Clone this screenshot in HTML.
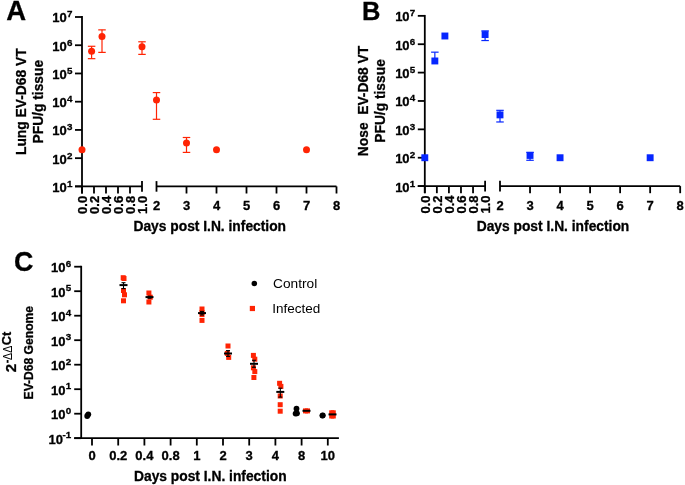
<!DOCTYPE html>
<html><head><meta charset="utf-8"><style>
html,body{margin:0;padding:0;background:#fff;}
svg{display:block;font-family:'Liberation Sans', Arial, sans-serif;}
text[font-weight=bold]{stroke:#000;stroke-width:0.3px;}
</style></head><body>
<svg width="685" height="485" viewBox="0 0 685 485">
<rect width="685" height="485" fill="#fff"/>
<text x="6.30" y="19.70" font-size="27.5" font-weight="bold" text-anchor="start" fill="#000" >A</text>
<text x="362.00" y="19.50" font-size="25.5" font-weight="bold" text-anchor="start" fill="#000" >B</text>
<text x="13.90" y="270.50" font-size="26.8" font-weight="bold" text-anchor="start" fill="#000" >C</text>
<line x1="82.00" y1="16.10" x2="82.00" y2="193.50" stroke="#000" stroke-width="1.8" stroke-linecap="butt"/>
<line x1="75.00" y1="186.40" x2="82.00" y2="186.40" stroke="#000" stroke-width="1.8" stroke-linecap="butt"/>
<text x="66.80" y="191.80" font-size="13" font-weight="bold" text-anchor="end" fill="#000" >10</text>
<text x="72.40" y="186.80" font-size="9.8" font-weight="bold" text-anchor="end" fill="#000" >1</text>
<line x1="75.00" y1="158.17" x2="82.00" y2="158.17" stroke="#000" stroke-width="1.8" stroke-linecap="butt"/>
<text x="66.80" y="163.57" font-size="13" font-weight="bold" text-anchor="end" fill="#000" >10</text>
<text x="72.40" y="158.57" font-size="9.8" font-weight="bold" text-anchor="end" fill="#000" >2</text>
<line x1="75.00" y1="129.93" x2="82.00" y2="129.93" stroke="#000" stroke-width="1.8" stroke-linecap="butt"/>
<text x="66.80" y="135.33" font-size="13" font-weight="bold" text-anchor="end" fill="#000" >10</text>
<text x="72.40" y="130.33" font-size="9.8" font-weight="bold" text-anchor="end" fill="#000" >3</text>
<line x1="75.00" y1="101.70" x2="82.00" y2="101.70" stroke="#000" stroke-width="1.8" stroke-linecap="butt"/>
<text x="66.80" y="107.10" font-size="13" font-weight="bold" text-anchor="end" fill="#000" >10</text>
<text x="72.40" y="102.10" font-size="9.8" font-weight="bold" text-anchor="end" fill="#000" >4</text>
<line x1="75.00" y1="73.47" x2="82.00" y2="73.47" stroke="#000" stroke-width="1.8" stroke-linecap="butt"/>
<text x="66.80" y="78.87" font-size="13" font-weight="bold" text-anchor="end" fill="#000" >10</text>
<text x="72.40" y="73.87" font-size="9.8" font-weight="bold" text-anchor="end" fill="#000" >5</text>
<line x1="75.00" y1="45.23" x2="82.00" y2="45.23" stroke="#000" stroke-width="1.8" stroke-linecap="butt"/>
<text x="66.80" y="50.63" font-size="13" font-weight="bold" text-anchor="end" fill="#000" >10</text>
<text x="72.40" y="45.63" font-size="9.8" font-weight="bold" text-anchor="end" fill="#000" >6</text>
<line x1="75.00" y1="17.00" x2="82.00" y2="17.00" stroke="#000" stroke-width="1.8" stroke-linecap="butt"/>
<text x="66.80" y="22.40" font-size="13" font-weight="bold" text-anchor="end" fill="#000" >10</text>
<text x="72.40" y="17.40" font-size="9.8" font-weight="bold" text-anchor="end" fill="#000" >7</text>
<line x1="75.00" y1="186.40" x2="142.00" y2="186.40" stroke="#000" stroke-width="1.8" stroke-linecap="butt"/>
<line x1="82.00" y1="186.40" x2="82.00" y2="193.50" stroke="#000" stroke-width="1.8" stroke-linecap="butt"/>
<line x1="94.00" y1="186.40" x2="94.00" y2="193.50" stroke="#000" stroke-width="1.8" stroke-linecap="butt"/>
<line x1="106.00" y1="186.40" x2="106.00" y2="193.50" stroke="#000" stroke-width="1.8" stroke-linecap="butt"/>
<line x1="118.00" y1="186.40" x2="118.00" y2="193.50" stroke="#000" stroke-width="1.8" stroke-linecap="butt"/>
<line x1="130.00" y1="186.40" x2="130.00" y2="193.50" stroke="#000" stroke-width="1.8" stroke-linecap="butt"/>
<line x1="142.00" y1="181.10" x2="142.00" y2="191.70" stroke="#000" stroke-width="1.8" stroke-linecap="butt"/>
<text transform="translate(86.70,195.80) rotate(-90)" font-size="13" font-weight="bold" text-anchor="end">0.0</text>
<text transform="translate(98.70,195.80) rotate(-90)" font-size="13" font-weight="bold" text-anchor="end">0.2</text>
<text transform="translate(110.70,195.80) rotate(-90)" font-size="13" font-weight="bold" text-anchor="end">0.4</text>
<text transform="translate(122.70,195.80) rotate(-90)" font-size="13" font-weight="bold" text-anchor="end">0.6</text>
<text transform="translate(134.70,195.80) rotate(-90)" font-size="13" font-weight="bold" text-anchor="end">0.8</text>
<text transform="translate(146.70,195.80) rotate(-90)" font-size="13" font-weight="bold" text-anchor="end">1.0</text>
<line x1="156.50" y1="186.40" x2="336.50" y2="186.40" stroke="#000" stroke-width="1.8" stroke-linecap="butt"/>
<line x1="156.50" y1="181.10" x2="156.50" y2="191.70" stroke="#000" stroke-width="1.8" stroke-linecap="butt"/>
<line x1="186.50" y1="186.40" x2="186.50" y2="193.50" stroke="#000" stroke-width="1.8" stroke-linecap="butt"/>
<line x1="216.50" y1="186.40" x2="216.50" y2="193.50" stroke="#000" stroke-width="1.8" stroke-linecap="butt"/>
<line x1="246.50" y1="186.40" x2="246.50" y2="193.50" stroke="#000" stroke-width="1.8" stroke-linecap="butt"/>
<line x1="276.50" y1="186.40" x2="276.50" y2="193.50" stroke="#000" stroke-width="1.8" stroke-linecap="butt"/>
<line x1="306.50" y1="186.40" x2="306.50" y2="193.50" stroke="#000" stroke-width="1.8" stroke-linecap="butt"/>
<line x1="336.50" y1="186.40" x2="336.50" y2="193.50" stroke="#000" stroke-width="1.8" stroke-linecap="butt"/>
<text x="156.50" y="210.20" font-size="13" font-weight="bold" text-anchor="middle" fill="#000" >2</text>
<text x="186.50" y="210.20" font-size="13" font-weight="bold" text-anchor="middle" fill="#000" >3</text>
<text x="216.50" y="210.20" font-size="13" font-weight="bold" text-anchor="middle" fill="#000" >4</text>
<text x="246.50" y="210.20" font-size="13" font-weight="bold" text-anchor="middle" fill="#000" >5</text>
<text x="276.50" y="210.20" font-size="13" font-weight="bold" text-anchor="middle" fill="#000" >6</text>
<text x="306.50" y="210.20" font-size="13" font-weight="bold" text-anchor="middle" fill="#000" >7</text>
<text x="336.50" y="210.20" font-size="13" font-weight="bold" text-anchor="middle" fill="#000" >8</text>
<text x="209.75" y="231.20" font-size="13.8" font-weight="bold" text-anchor="middle" fill="#000" >Days post I.N. infection</text>
<text transform="translate(25.90,101.70) rotate(-90)" font-size="13.8" font-weight="bold" text-anchor="middle" xml:space="preserve">Lung EV-D68 VT</text>
<text transform="translate(42.90,101.70) rotate(-90)" font-size="13.8" font-weight="bold" text-anchor="middle" xml:space="preserve">PFU/g tissue</text>
<circle cx="82.00" cy="149.67" r="3.5" fill="#ff2404"/>
<line x1="91.60" y1="46.28" x2="91.60" y2="58.67" stroke="#ff2404" stroke-width="1.2" stroke-linecap="butt"/>
<line x1="87.85" y1="46.28" x2="95.35" y2="46.28" stroke="#ff2404" stroke-width="1.2" stroke-linecap="butt"/>
<line x1="87.85" y1="58.67" x2="95.35" y2="58.67" stroke="#ff2404" stroke-width="1.2" stroke-linecap="butt"/>
<circle cx="91.60" cy="51.16" r="3.5" fill="#ff2404"/>
<line x1="102.00" y1="29.87" x2="102.00" y2="52.38" stroke="#ff2404" stroke-width="1.2" stroke-linecap="butt"/>
<line x1="98.25" y1="29.87" x2="105.75" y2="29.87" stroke="#ff2404" stroke-width="1.2" stroke-linecap="butt"/>
<line x1="98.25" y1="52.38" x2="105.75" y2="52.38" stroke="#ff2404" stroke-width="1.2" stroke-linecap="butt"/>
<circle cx="102.00" cy="36.48" r="3.5" fill="#ff2404"/>
<line x1="142.00" y1="41.79" x2="142.00" y2="54.38" stroke="#ff2404" stroke-width="1.2" stroke-linecap="butt"/>
<line x1="138.25" y1="41.79" x2="145.75" y2="41.79" stroke="#ff2404" stroke-width="1.2" stroke-linecap="butt"/>
<line x1="138.25" y1="54.38" x2="145.75" y2="54.38" stroke="#ff2404" stroke-width="1.2" stroke-linecap="butt"/>
<circle cx="142.00" cy="46.64" r="3.5" fill="#ff2404"/>
<line x1="156.50" y1="92.58" x2="156.50" y2="119.29" stroke="#ff2404" stroke-width="1.2" stroke-linecap="butt"/>
<line x1="152.75" y1="92.58" x2="160.25" y2="92.58" stroke="#ff2404" stroke-width="1.2" stroke-linecap="butt"/>
<line x1="152.75" y1="119.29" x2="160.25" y2="119.29" stroke="#ff2404" stroke-width="1.2" stroke-linecap="butt"/>
<circle cx="156.50" cy="99.89" r="3.5" fill="#ff2404"/>
<line x1="186.50" y1="137.50" x2="186.50" y2="152.41" stroke="#ff2404" stroke-width="1.2" stroke-linecap="butt"/>
<line x1="182.75" y1="137.50" x2="190.25" y2="137.50" stroke="#ff2404" stroke-width="1.2" stroke-linecap="butt"/>
<line x1="182.75" y1="152.41" x2="190.25" y2="152.41" stroke="#ff2404" stroke-width="1.2" stroke-linecap="butt"/>
<circle cx="186.50" cy="143.09" r="3.5" fill="#ff2404"/>
<circle cx="216.50" cy="149.67" r="3.5" fill="#ff2404"/>
<circle cx="306.50" cy="149.67" r="3.5" fill="#ff2404"/>
<line x1="424.80" y1="14.95" x2="424.80" y2="193.20" stroke="#000" stroke-width="1.8" stroke-linecap="butt"/>
<line x1="417.80" y1="186.10" x2="424.80" y2="186.10" stroke="#000" stroke-width="1.8" stroke-linecap="butt"/>
<text x="409.60" y="191.50" font-size="13" font-weight="bold" text-anchor="end" fill="#000" >10</text>
<text x="415.20" y="186.50" font-size="9.8" font-weight="bold" text-anchor="end" fill="#000" >1</text>
<line x1="417.80" y1="157.72" x2="424.80" y2="157.72" stroke="#000" stroke-width="1.8" stroke-linecap="butt"/>
<text x="409.60" y="163.12" font-size="13" font-weight="bold" text-anchor="end" fill="#000" >10</text>
<text x="415.20" y="158.12" font-size="9.8" font-weight="bold" text-anchor="end" fill="#000" >2</text>
<line x1="417.80" y1="129.35" x2="424.80" y2="129.35" stroke="#000" stroke-width="1.8" stroke-linecap="butt"/>
<text x="409.60" y="134.75" font-size="13" font-weight="bold" text-anchor="end" fill="#000" >10</text>
<text x="415.20" y="129.75" font-size="9.8" font-weight="bold" text-anchor="end" fill="#000" >3</text>
<line x1="417.80" y1="100.97" x2="424.80" y2="100.97" stroke="#000" stroke-width="1.8" stroke-linecap="butt"/>
<text x="409.60" y="106.38" font-size="13" font-weight="bold" text-anchor="end" fill="#000" >10</text>
<text x="415.20" y="101.38" font-size="9.8" font-weight="bold" text-anchor="end" fill="#000" >4</text>
<line x1="417.80" y1="72.60" x2="424.80" y2="72.60" stroke="#000" stroke-width="1.8" stroke-linecap="butt"/>
<text x="409.60" y="78.00" font-size="13" font-weight="bold" text-anchor="end" fill="#000" >10</text>
<text x="415.20" y="73.00" font-size="9.8" font-weight="bold" text-anchor="end" fill="#000" >5</text>
<line x1="417.80" y1="44.22" x2="424.80" y2="44.22" stroke="#000" stroke-width="1.8" stroke-linecap="butt"/>
<text x="409.60" y="49.62" font-size="13" font-weight="bold" text-anchor="end" fill="#000" >10</text>
<text x="415.20" y="44.62" font-size="9.8" font-weight="bold" text-anchor="end" fill="#000" >6</text>
<line x1="417.80" y1="15.85" x2="424.80" y2="15.85" stroke="#000" stroke-width="1.8" stroke-linecap="butt"/>
<text x="409.60" y="21.25" font-size="13" font-weight="bold" text-anchor="end" fill="#000" >10</text>
<text x="415.20" y="16.25" font-size="9.8" font-weight="bold" text-anchor="end" fill="#000" >7</text>
<line x1="417.80" y1="186.10" x2="485.10" y2="186.10" stroke="#000" stroke-width="1.8" stroke-linecap="butt"/>
<line x1="424.80" y1="186.10" x2="424.80" y2="193.20" stroke="#000" stroke-width="1.8" stroke-linecap="butt"/>
<line x1="436.86" y1="186.10" x2="436.86" y2="193.20" stroke="#000" stroke-width="1.8" stroke-linecap="butt"/>
<line x1="448.92" y1="186.10" x2="448.92" y2="193.20" stroke="#000" stroke-width="1.8" stroke-linecap="butt"/>
<line x1="460.98" y1="186.10" x2="460.98" y2="193.20" stroke="#000" stroke-width="1.8" stroke-linecap="butt"/>
<line x1="473.04" y1="186.10" x2="473.04" y2="193.20" stroke="#000" stroke-width="1.8" stroke-linecap="butt"/>
<line x1="485.10" y1="180.80" x2="485.10" y2="191.40" stroke="#000" stroke-width="1.8" stroke-linecap="butt"/>
<text transform="translate(429.50,195.50) rotate(-90)" font-size="13" font-weight="bold" text-anchor="end">0.0</text>
<text transform="translate(441.56,195.50) rotate(-90)" font-size="13" font-weight="bold" text-anchor="end">0.2</text>
<text transform="translate(453.62,195.50) rotate(-90)" font-size="13" font-weight="bold" text-anchor="end">0.4</text>
<text transform="translate(465.68,195.50) rotate(-90)" font-size="13" font-weight="bold" text-anchor="end">0.6</text>
<text transform="translate(477.74,195.50) rotate(-90)" font-size="13" font-weight="bold" text-anchor="end">0.8</text>
<text transform="translate(489.80,195.50) rotate(-90)" font-size="13" font-weight="bold" text-anchor="end">1.0</text>
<line x1="500.00" y1="186.10" x2="680.18" y2="186.10" stroke="#000" stroke-width="1.8" stroke-linecap="butt"/>
<line x1="500.00" y1="180.80" x2="500.00" y2="191.40" stroke="#000" stroke-width="1.8" stroke-linecap="butt"/>
<line x1="530.03" y1="186.10" x2="530.03" y2="193.20" stroke="#000" stroke-width="1.8" stroke-linecap="butt"/>
<line x1="560.06" y1="186.10" x2="560.06" y2="193.20" stroke="#000" stroke-width="1.8" stroke-linecap="butt"/>
<line x1="590.09" y1="186.10" x2="590.09" y2="193.20" stroke="#000" stroke-width="1.8" stroke-linecap="butt"/>
<line x1="620.12" y1="186.10" x2="620.12" y2="193.20" stroke="#000" stroke-width="1.8" stroke-linecap="butt"/>
<line x1="650.15" y1="186.10" x2="650.15" y2="193.20" stroke="#000" stroke-width="1.8" stroke-linecap="butt"/>
<line x1="680.18" y1="186.10" x2="680.18" y2="193.20" stroke="#000" stroke-width="1.8" stroke-linecap="butt"/>
<text x="500.00" y="210.00" font-size="13" font-weight="bold" text-anchor="middle" fill="#000" >2</text>
<text x="530.03" y="210.00" font-size="13" font-weight="bold" text-anchor="middle" fill="#000" >3</text>
<text x="560.06" y="210.00" font-size="13" font-weight="bold" text-anchor="middle" fill="#000" >4</text>
<text x="590.09" y="210.00" font-size="13" font-weight="bold" text-anchor="middle" fill="#000" >5</text>
<text x="620.12" y="210.00" font-size="13" font-weight="bold" text-anchor="middle" fill="#000" >6</text>
<text x="650.15" y="210.00" font-size="13" font-weight="bold" text-anchor="middle" fill="#000" >7</text>
<text x="680.18" y="210.00" font-size="13" font-weight="bold" text-anchor="middle" fill="#000" >8</text>
<text x="552.99" y="231.00" font-size="13.8" font-weight="bold" text-anchor="middle" fill="#000" >Days post I.N. infection</text>
<text transform="translate(368.40,100.97) rotate(-90)" font-size="13.8" font-weight="bold" text-anchor="middle" xml:space="preserve">Nose  EV-D68 VT</text>
<text transform="translate(385.40,100.97) rotate(-90)" font-size="13.8" font-weight="bold" text-anchor="middle" xml:space="preserve">PFU/g tissue</text>
<rect x="421.35" y="154.28" width="6.9" height="6.9" fill="#0626ff"/>
<line x1="434.85" y1="52.17" x2="434.85" y2="60.97" stroke="#0626ff" stroke-width="1.2" stroke-linecap="butt"/>
<line x1="431.10" y1="52.17" x2="438.60" y2="52.17" stroke="#0626ff" stroke-width="1.2" stroke-linecap="butt"/>
<rect x="431.40" y="57.52" width="6.9" height="6.9" fill="#0626ff"/>
<rect x="441.45" y="32.55" width="6.9" height="6.9" fill="#0626ff"/>
<line x1="485.10" y1="30.89" x2="485.10" y2="40.54" stroke="#0626ff" stroke-width="1.2" stroke-linecap="butt"/>
<line x1="481.35" y1="30.89" x2="488.85" y2="30.89" stroke="#0626ff" stroke-width="1.2" stroke-linecap="butt"/>
<line x1="481.35" y1="40.54" x2="488.85" y2="40.54" stroke="#0626ff" stroke-width="1.2" stroke-linecap="butt"/>
<rect x="481.65" y="31.13" width="6.9" height="6.9" fill="#0626ff"/>
<line x1="500.00" y1="110.34" x2="500.00" y2="121.97" stroke="#0626ff" stroke-width="1.2" stroke-linecap="butt"/>
<line x1="496.25" y1="110.34" x2="503.75" y2="110.34" stroke="#0626ff" stroke-width="1.2" stroke-linecap="butt"/>
<line x1="496.25" y1="121.97" x2="503.75" y2="121.97" stroke="#0626ff" stroke-width="1.2" stroke-linecap="butt"/>
<rect x="496.55" y="111.43" width="6.9" height="6.9" fill="#0626ff"/>
<line x1="530.03" y1="152.33" x2="530.03" y2="160.28" stroke="#0626ff" stroke-width="1.2" stroke-linecap="butt"/>
<line x1="526.28" y1="152.33" x2="533.78" y2="152.33" stroke="#0626ff" stroke-width="1.2" stroke-linecap="butt"/>
<line x1="526.28" y1="160.28" x2="533.78" y2="160.28" stroke="#0626ff" stroke-width="1.2" stroke-linecap="butt"/>
<rect x="526.58" y="152.00" width="6.9" height="6.9" fill="#0626ff"/>
<rect x="556.61" y="154.28" width="6.9" height="6.9" fill="#0626ff"/>
<rect x="646.70" y="154.28" width="6.9" height="6.9" fill="#0626ff"/>
<line x1="81.20" y1="265.80" x2="81.20" y2="438.20" stroke="#000" stroke-width="1.8" stroke-linecap="butt"/>
<line x1="74.20" y1="438.20" x2="81.20" y2="438.20" stroke="#000" stroke-width="1.8" stroke-linecap="butt"/>
<text x="63.00" y="443.60" font-size="13" font-weight="bold" text-anchor="end" fill="#000" >10</text>
<text x="71.20" y="438.40" font-size="9.8" font-weight="bold" text-anchor="end" fill="#000" >-1</text>
<line x1="74.20" y1="413.70" x2="81.20" y2="413.70" stroke="#000" stroke-width="1.8" stroke-linecap="butt"/>
<text x="65.40" y="419.10" font-size="13" font-weight="bold" text-anchor="end" fill="#000" >10</text>
<text x="71.20" y="413.90" font-size="9.8" font-weight="bold" text-anchor="end" fill="#000" >0</text>
<line x1="74.20" y1="389.20" x2="81.20" y2="389.20" stroke="#000" stroke-width="1.8" stroke-linecap="butt"/>
<text x="65.40" y="394.60" font-size="13" font-weight="bold" text-anchor="end" fill="#000" >10</text>
<text x="71.20" y="389.40" font-size="9.8" font-weight="bold" text-anchor="end" fill="#000" >1</text>
<line x1="74.20" y1="364.70" x2="81.20" y2="364.70" stroke="#000" stroke-width="1.8" stroke-linecap="butt"/>
<text x="65.40" y="370.10" font-size="13" font-weight="bold" text-anchor="end" fill="#000" >10</text>
<text x="71.20" y="364.90" font-size="9.8" font-weight="bold" text-anchor="end" fill="#000" >2</text>
<line x1="74.20" y1="340.20" x2="81.20" y2="340.20" stroke="#000" stroke-width="1.8" stroke-linecap="butt"/>
<text x="65.40" y="345.60" font-size="13" font-weight="bold" text-anchor="end" fill="#000" >10</text>
<text x="71.20" y="340.40" font-size="9.8" font-weight="bold" text-anchor="end" fill="#000" >3</text>
<line x1="74.20" y1="315.70" x2="81.20" y2="315.70" stroke="#000" stroke-width="1.8" stroke-linecap="butt"/>
<text x="65.40" y="321.10" font-size="13" font-weight="bold" text-anchor="end" fill="#000" >10</text>
<text x="71.20" y="315.90" font-size="9.8" font-weight="bold" text-anchor="end" fill="#000" >4</text>
<line x1="74.20" y1="291.20" x2="81.20" y2="291.20" stroke="#000" stroke-width="1.8" stroke-linecap="butt"/>
<text x="65.40" y="296.60" font-size="13" font-weight="bold" text-anchor="end" fill="#000" >10</text>
<text x="71.20" y="291.40" font-size="9.8" font-weight="bold" text-anchor="end" fill="#000" >5</text>
<line x1="74.20" y1="266.70" x2="81.20" y2="266.70" stroke="#000" stroke-width="1.8" stroke-linecap="butt"/>
<text x="65.40" y="272.10" font-size="13" font-weight="bold" text-anchor="end" fill="#000" >10</text>
<text x="71.20" y="266.90" font-size="9.8" font-weight="bold" text-anchor="end" fill="#000" >6</text>
<line x1="74.20" y1="438.20" x2="338.90" y2="438.20" stroke="#000" stroke-width="1.8" stroke-linecap="butt"/>
<line x1="92.00" y1="438.20" x2="92.00" y2="445.50" stroke="#000" stroke-width="1.8" stroke-linecap="butt"/>
<text x="92.00" y="460.30" font-size="13" font-weight="bold" text-anchor="middle" fill="#000" >0</text>
<line x1="118.20" y1="438.20" x2="118.20" y2="445.50" stroke="#000" stroke-width="1.8" stroke-linecap="butt"/>
<text x="118.20" y="460.30" font-size="13" font-weight="bold" text-anchor="middle" fill="#000" >0.2</text>
<line x1="144.40" y1="438.20" x2="144.40" y2="445.50" stroke="#000" stroke-width="1.8" stroke-linecap="butt"/>
<text x="144.40" y="460.30" font-size="13" font-weight="bold" text-anchor="middle" fill="#000" >0.4</text>
<line x1="170.60" y1="438.20" x2="170.60" y2="445.50" stroke="#000" stroke-width="1.8" stroke-linecap="butt"/>
<text x="170.60" y="460.30" font-size="13" font-weight="bold" text-anchor="middle" fill="#000" >0.8</text>
<line x1="196.80" y1="438.20" x2="196.80" y2="445.50" stroke="#000" stroke-width="1.8" stroke-linecap="butt"/>
<text x="196.80" y="460.30" font-size="13" font-weight="bold" text-anchor="middle" fill="#000" >1</text>
<line x1="223.00" y1="438.20" x2="223.00" y2="445.50" stroke="#000" stroke-width="1.8" stroke-linecap="butt"/>
<text x="223.00" y="460.30" font-size="13" font-weight="bold" text-anchor="middle" fill="#000" >2</text>
<line x1="249.20" y1="438.20" x2="249.20" y2="445.50" stroke="#000" stroke-width="1.8" stroke-linecap="butt"/>
<text x="249.20" y="460.30" font-size="13" font-weight="bold" text-anchor="middle" fill="#000" >3</text>
<line x1="275.40" y1="438.20" x2="275.40" y2="445.50" stroke="#000" stroke-width="1.8" stroke-linecap="butt"/>
<text x="275.40" y="460.30" font-size="13" font-weight="bold" text-anchor="middle" fill="#000" >4</text>
<line x1="301.60" y1="438.20" x2="301.60" y2="445.50" stroke="#000" stroke-width="1.8" stroke-linecap="butt"/>
<text x="301.60" y="460.30" font-size="13" font-weight="bold" text-anchor="middle" fill="#000" >8</text>
<line x1="327.80" y1="438.20" x2="327.80" y2="445.50" stroke="#000" stroke-width="1.8" stroke-linecap="butt"/>
<text x="327.80" y="460.30" font-size="13" font-weight="bold" text-anchor="middle" fill="#000" >10</text>
<text x="210.30" y="481.00" font-size="13.8" font-weight="bold" text-anchor="middle" fill="#000" >Days post I.N. infection</text>
<text transform="translate(33.1,352.7) rotate(-90)" font-size="12.1" font-weight="bold" text-anchor="middle">EV-D68 Genome</text>
<text transform="translate(15.60,372.30) rotate(-90)" font-size="15" font-weight="bold" text-anchor="start">2</text>
<text transform="translate(10.30,361.30) rotate(-90)" font-size="11" font-weight="bold" text-anchor="middle">-</text>
<text transform="translate(11.75,360.0) rotate(-90) scale(0.87 1)" font-size="12.3" font-weight="normal">ΔΔ</text>
<text transform="translate(10.50,345.20) rotate(-90)" font-size="12.8" font-weight="bold" text-anchor="start">Ct</text>
<circle cx="254.30" cy="283.50" r="2.75" fill="#000"/>
<text x="273.10" y="288.40" font-size="13.7" font-weight="normal" text-anchor="start" fill="#000" >Control</text>
<rect x="249.80" y="305.90" width="5.2" height="5.2" fill="#ff2404"/>
<text x="272.20" y="312.90" font-size="13.5" font-weight="normal" text-anchor="start" fill="#000" >Infected</text>
<rect x="120.70" y="275.20" width="5.0" height="5.0" fill="#ff2404"/>
<rect x="121.50" y="276.00" width="5.0" height="5.0" fill="#ff2404"/>
<rect x="121.00" y="288.00" width="5.0" height="5.0" fill="#ff2404"/>
<rect x="122.00" y="292.30" width="5.0" height="5.0" fill="#ff2404"/>
<rect x="121.00" y="298.30" width="5.0" height="5.0" fill="#ff2404"/>
<line x1="123.50" y1="282.70" x2="123.50" y2="288.60" stroke="#000" stroke-width="1.1" stroke-linecap="butt"/>
<line x1="121.50" y1="282.70" x2="125.50" y2="282.70" stroke="#000" stroke-width="1.1" stroke-linecap="butt"/>
<line x1="121.50" y1="288.60" x2="125.50" y2="288.60" stroke="#000" stroke-width="1.1" stroke-linecap="butt"/>
<line x1="119.50" y1="285.10" x2="127.50" y2="285.10" stroke="#000" stroke-width="2.0" stroke-linecap="butt"/>
<rect x="146.40" y="290.50" width="5.0" height="5.0" fill="#ff2404"/>
<rect x="147.80" y="294.70" width="5.0" height="5.0" fill="#ff2404"/>
<rect x="146.40" y="299.50" width="5.0" height="5.0" fill="#ff2404"/>
<line x1="149.50" y1="296.20" x2="149.50" y2="298.20" stroke="#000" stroke-width="1.1" stroke-linecap="butt"/>
<line x1="147.50" y1="296.20" x2="151.50" y2="296.20" stroke="#000" stroke-width="1.1" stroke-linecap="butt"/>
<line x1="147.50" y1="298.20" x2="151.50" y2="298.20" stroke="#000" stroke-width="1.1" stroke-linecap="butt"/>
<line x1="145.50" y1="297.10" x2="153.50" y2="297.10" stroke="#000" stroke-width="2.0" stroke-linecap="butt"/>
<rect x="199.50" y="306.50" width="5.0" height="5.0" fill="#ff2404"/>
<rect x="199.50" y="310.00" width="5.0" height="5.0" fill="#ff2404"/>
<rect x="199.50" y="312.00" width="5.0" height="5.0" fill="#ff2404"/>
<rect x="199.50" y="317.90" width="5.0" height="5.0" fill="#ff2404"/>
<line x1="202.00" y1="311.40" x2="202.00" y2="315.00" stroke="#000" stroke-width="1.1" stroke-linecap="butt"/>
<line x1="200.00" y1="311.40" x2="204.00" y2="311.40" stroke="#000" stroke-width="1.1" stroke-linecap="butt"/>
<line x1="200.00" y1="315.00" x2="204.00" y2="315.00" stroke="#000" stroke-width="1.1" stroke-linecap="butt"/>
<line x1="198.00" y1="313.10" x2="206.00" y2="313.10" stroke="#000" stroke-width="2.0" stroke-linecap="butt"/>
<rect x="225.50" y="343.50" width="5.0" height="5.0" fill="#ff2404"/>
<rect x="224.80" y="350.90" width="5.0" height="5.0" fill="#ff2404"/>
<rect x="226.20" y="354.90" width="5.0" height="5.0" fill="#ff2404"/>
<line x1="228.00" y1="350.60" x2="228.00" y2="356.40" stroke="#000" stroke-width="1.1" stroke-linecap="butt"/>
<line x1="226.00" y1="350.60" x2="230.00" y2="350.60" stroke="#000" stroke-width="1.1" stroke-linecap="butt"/>
<line x1="226.00" y1="356.40" x2="230.00" y2="356.40" stroke="#000" stroke-width="1.1" stroke-linecap="butt"/>
<line x1="224.00" y1="353.50" x2="232.00" y2="353.50" stroke="#000" stroke-width="2.0" stroke-linecap="butt"/>
<rect x="250.90" y="352.90" width="5.0" height="5.0" fill="#ff2404"/>
<rect x="252.30" y="356.70" width="5.0" height="5.0" fill="#ff2404"/>
<rect x="250.90" y="365.30" width="5.0" height="5.0" fill="#ff2404"/>
<rect x="252.30" y="369.10" width="5.0" height="5.0" fill="#ff2404"/>
<rect x="251.40" y="375.00" width="5.0" height="5.0" fill="#ff2404"/>
<line x1="254.00" y1="360.30" x2="254.00" y2="367.30" stroke="#000" stroke-width="1.1" stroke-linecap="butt"/>
<line x1="252.00" y1="360.30" x2="256.00" y2="360.30" stroke="#000" stroke-width="1.1" stroke-linecap="butt"/>
<line x1="252.00" y1="367.30" x2="256.00" y2="367.30" stroke="#000" stroke-width="1.1" stroke-linecap="butt"/>
<line x1="250.00" y1="363.80" x2="258.00" y2="363.80" stroke="#000" stroke-width="2.0" stroke-linecap="butt"/>
<rect x="277.10" y="380.80" width="5.0" height="5.0" fill="#ff2404"/>
<rect x="278.40" y="383.90" width="5.0" height="5.0" fill="#ff2404"/>
<rect x="277.70" y="393.50" width="5.0" height="5.0" fill="#ff2404"/>
<rect x="277.70" y="402.20" width="5.0" height="5.0" fill="#ff2404"/>
<rect x="277.70" y="408.70" width="5.0" height="5.0" fill="#ff2404"/>
<line x1="280.30" y1="388.20" x2="280.30" y2="397.10" stroke="#000" stroke-width="1.1" stroke-linecap="butt"/>
<line x1="278.30" y1="388.20" x2="282.30" y2="388.20" stroke="#000" stroke-width="1.1" stroke-linecap="butt"/>
<line x1="278.30" y1="397.10" x2="282.30" y2="397.10" stroke="#000" stroke-width="1.1" stroke-linecap="butt"/>
<line x1="276.30" y1="391.90" x2="284.30" y2="391.90" stroke="#000" stroke-width="2.0" stroke-linecap="butt"/>
<rect x="303.00" y="408.40" width="5.0" height="5.0" fill="#ff2404"/>
<rect x="305.00" y="408.40" width="5.0" height="5.0" fill="#ff2404"/>
<line x1="302.50" y1="410.80" x2="310.50" y2="410.80" stroke="#000" stroke-width="2.0" stroke-linecap="butt"/>
<rect x="329.20" y="410.30" width="5.0" height="5.0" fill="#ff2404"/>
<rect x="330.80" y="410.30" width="5.0" height="5.0" fill="#ff2404"/>
<rect x="329.20" y="413.50" width="5.0" height="5.0" fill="#ff2404"/>
<rect x="330.80" y="413.50" width="5.0" height="5.0" fill="#ff2404"/>
<line x1="328.50" y1="414.40" x2="336.50" y2="414.40" stroke="#000" stroke-width="2.0" stroke-linecap="butt"/>
<circle cx="88.30" cy="414.30" r="2.9" fill="#000"/>
<circle cx="87.20" cy="416.00" r="2.9" fill="#000"/>
<circle cx="296.50" cy="408.70" r="2.9" fill="#000"/>
<circle cx="295.60" cy="413.60" r="2.9" fill="#000"/>
<circle cx="297.00" cy="413.30" r="2.9" fill="#000"/>
<circle cx="322.80" cy="415.30" r="2.9" fill="#000"/>
<circle cx="322.40" cy="415.60" r="2.9" fill="#000"/>
</svg>
</body></html>
